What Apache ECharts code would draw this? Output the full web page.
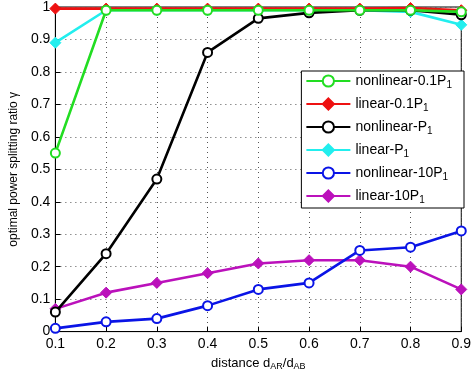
<!DOCTYPE html>
<html><head><meta charset="utf-8">
<script src="https://cdn.jsdelivr.net/npm/echarts@6/dist/echarts.min.js"></script>
<style>html,body{margin:0;padding:0;background:#fff}#c{width:474px;height:376px}</style>
</head><body><div id="c"></div>
<script>
var categories = ['0.1','0.2','0.3','0.4','0.5','0.6','0.7','0.8','0.9'];
var seriesNames = ['nonlinear-0.1P1','linear-0.1P1','nonlinear-P1','linear-P1','nonlinear-10P1','linear-10P1'];
var nonlinear01 = [0.55, 0.99, 0.99, 0.99, 0.99, 0.99, 0.99, 0.99, 0.985];
var linear01    = [0.995, 0.995, 0.995, 0.995, 0.995, 0.995, 0.995, 0.997, 0.99];
var nonlinearP  = [0.06, 0.24, 0.47, 0.86, 0.965, 0.982, 0.99, 0.99, 0.976];
var linearP     = [0.89, 0.99, 0.99, 0.99, 0.99, 0.99, 0.99, 0.985, 0.945];
var nonlinear10 = [0.01, 0.03, 0.04, 0.08, 0.13, 0.15, 0.25, 0.26, 0.31];
var linear10    = [0.07, 0.12, 0.15, 0.18, 0.21, 0.22, 0.22, 0.20, 0.13];
var yTicks = ['0','0.1','0.2','0.3','0.4','0.5','0.6','0.7','0.8','0.9','1'];

var colors = ['#22dd22','#ee1111','#000000','#22eeee','#0a14e6','#bb11bb'];
var symbols = ['circle','diamond','circle','diamond','circle','diamond'];
var datas = [nonlinear01, linear01, nonlinearP, linearP, nonlinear10, linear10];
var FONT = 'Liberation Sans, Arial, sans-serif';

var series = datas.map(function(d,i){
  var isCircle = symbols[i]==='circle';
  return {
    name: seriesNames[i], type:'line', data:d,
    symbol: isCircle ? 'emptyCircle' : 'diamond',
    symbolSize: isCircle ? 9 : 11,
    lineStyle:{color:colors[i], width:2.6},
    itemStyle:{color:colors[i], borderColor:colors[i], borderWidth: isCircle?2.2:1},
    emphasis:{disabled:true},
    z: 10 - i
  };
});
var chart = echarts.init(document.getElementById('c'), null, {renderer:'canvas'});
chart.setOption({
  animation:false,
  backgroundColor:'#fff',
  grid:{left:41, right:9, top:7, bottom:37, show:true, borderColor:'#000', borderWidth:1, backgroundColor:'transparent'},
  xAxis:{
    type:'category', data:categories, boundaryGap:false,
    axisLine:{lineStyle:{color:'#000', width:1}},
    axisTick:{inside:true, length:5, lineStyle:{color:'#000'}},
    axisLabel:{color:'#000', fontSize:14, fontFamily:FONT, margin:6},
    splitLine:{show:true, lineStyle:{color:'#555', type:[1,4], width:1}},
    name:'distance d{sub|AR}/d{sub|AB}',
    nameLocation:'middle', nameGap:23,
    nameTextStyle:{color:'#000', fontSize:13, fontFamily:FONT,
      rich:{sub:{fontSize:9, verticalAlign:'bottom', padding:[7,0,0,0], color:'#000', fontFamily:FONT}}}
  },
  yAxis:{
    type:'value', min:0, max:1, interval:0.1,
    axisLine:{show:true, lineStyle:{color:'#000', width:1}},
    axisTick:{show:true, inside:true, length:5, lineStyle:{color:'#000'}},
    axisLabel:{color:'#000', fontSize:14, fontFamily:FONT, margin:5,
      formatter:function(v){ return yTicks[Math.round(v*10)]; }},
    splitLine:{show:true, lineStyle:{color:'#555', type:[1,4], width:1}},
    name:'optimal power splitting ratio γ',
    nameLocation:'middle', nameGap:31, nameRotate:90,
    nameTextStyle:{color:'#000', fontSize:12, fontFamily:FONT}
  },
  legend:{
    data:seriesNames, orient:'vertical', right:10, top:71,
    width:159, padding:[3,12,3,4], itemGap:7,
    itemWidth:44, itemHeight:14,
    backgroundColor:'#fff', borderColor:'#000', borderWidth:1,
    textStyle:{color:'#000', fontSize:14, fontFamily:FONT,
      rich:{sub:{fontSize:10, verticalAlign:'bottom', padding:[8,0,0,0], color:'#000', fontFamily:FONT}}},
    formatter:function(n){ return n.slice(0,-1)+'{sub|1}'; }
  },
  series:series
});
</script></body></html>
